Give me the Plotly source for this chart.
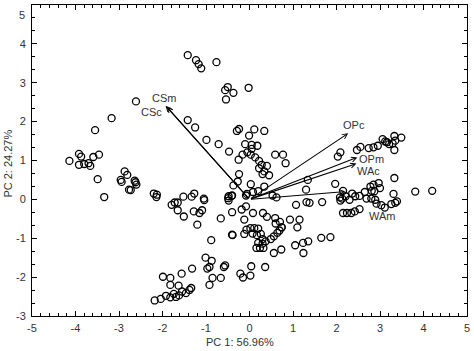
import plotly.graph_objects as go

# PCA scores (PC1, PC2)
pc1 = [
    -1.42, -1.23, -1.17, -1.11, -0.76, -0.50, -0.56, -0.37, -0.54, -0.02,
    -2.61, -3.17, -1.42, -1.25, -3.55, -0.24, -0.29, 0.11, 0.34,
    -0.99, -0.71, -0.47, -0.01, -0.10, 0.05, 0.18,
    0.05, -0.05, 0.03, -0.16, -0.25, 0.13, 0.22, 0.28, 0.40, 0.22,
    0.34, 0.30, 0.45, 0.59, 0.77, 0.83,
    -0.24, -0.27, -0.37, 0.03, 0.34, 0.20, 0.08, -0.06, -0.48, -0.40, -1.05,
    0.53, 0.62, -0.08,
    -4.14, -3.92, -3.87, -3.59, -3.46, -3.92, -3.80, -3.70, -3.66,
    -3.49, -3.34,
    -2.87, -2.81, -2.96, -2.94, -2.62, -2.60, -2.73, -2.77, -2.64,
    -2.20, -2.13, -2.14,
    -1.79, -1.72, -1.65, -1.65, -1.52, -1.51,
    -1.33, -1.27, -1.28, -1.15, -1.09, -1.20, -1.04,
    -0.66, -0.49, -0.41, -0.48, -0.40, -0.40,
    -0.18, -0.08, 0.08, 0.31, -0.12, 0.40, 0.59,
    -0.39, -0.12, -0.07, 0.02, 0.11, 0.20, 0.07, 0.17, 0.26, 0.30, 0.37,
    0.49, 0.56, 0.64, 0.69, 0.74, 0.60, 0.70,
    0.16, 0.24, 0.32, 0.30, 0.20, 0.56, 0.73,
    -0.88, -1.01, -0.87, -0.92, -0.97, -0.56, -0.59, 0.04, 0.36,
    -0.21, -0.15, 0.02, -0.85, -0.66, -0.92,
    -1.32, -1.56, -1.99, -1.82, -1.82, -1.63, -1.34, -1.38,
    -2.18, -2.04, -1.92, -1.82, -1.74, -1.69, -1.62, -1.55, -1.46,
    1.34, 1.30, 1.97,
    1.07, 1.31, 1.38, 1.67,
    0.93, 1.15, 1.10, 0.74,
    1.65, 1.86, 1.35, 1.23, 1.05, 1.24,
    2.03, 2.09, 2.47, 2.55, 2.74, 2.85, 2.95, 3.06, 3.12, 3.16, 3.21, 3.29,
    3.33, 3.35, 3.49, 3.33, 3.33,
    2.78, 2.85, 2.97, 3.00,
    2.15, 2.08, 2.13, 2.09, 2.21, 2.30, 2.36, 2.43, 2.53, 2.65, 2.69,
    2.81, 2.87, 2.89, 2.80, 2.92, 3.03, 3.11, 3.26, 3.35, 3.39, 3.31,
    3.81, 4.20,
    2.15, 2.24, 2.34, 2.42, 2.53,
]
pc2 = [
    3.71, 3.58, 3.48, 3.37, 3.53, 2.89, 2.81, 2.74, 2.57, 2.87,
    2.52, 2.09, 2.04, 1.85, 1.78, 1.81, 1.76, 1.80, 1.76,
    1.53, 1.42, 1.23, 1.64, 1.42, 1.40, 1.38,
    1.30, 1.21, 1.15, 1.15, 1.02, 1.08, 0.99, 0.89, 0.86, 0.80,
    0.72, 0.65, 0.62, 1.15, 1.15, 0.93,
    0.65, 0.46, 0.36, 0.39, 0.33, 0.21, 0.19, 0.14, 0.08, 0.10, 0.02,
    0.10, 0.05, 0.10,
    0.99, 1.17, 1.10, 1.09, 1.15, 0.89, 0.91, 0.93, 0.86,
    0.52, 0.06,
    0.72, 0.63, 0.50, 0.45, 0.44, 0.38, 0.24, 0.25, 0.48,
    0.15, 0.12, 0.06,
    -0.14, -0.08, -0.08, -0.28, 0.07, -0.44,
    0.07, 0.15, -0.31, -0.35, -0.28, -0.65, -0.02,
    -0.49, 0.03, 0.09, -0.03, -0.33, -0.91,
    -0.26, -0.18, -0.35, -0.35, -0.52, -0.45, -0.48,
    -0.92, -0.89, -0.78, -0.74, -0.74, -0.75, -0.88, -0.92, -0.89, -1.02, -1.08,
    -1.02, -0.95, -0.86, -0.80, -0.72, -0.62, -0.58,
    -1.25, -1.25, -1.25, -1.14, -1.12, -1.38, -1.29,
    -1.05, -1.50, -1.58, -1.74, -1.78, -1.70, -1.74, -1.72, -1.74,
    -1.91, -2.01, -1.96, -2.02, -2.02, -2.20,
    -1.78, -1.91, -1.99, -2.02, -2.20, -2.22, -2.28, -2.33,
    -2.60, -2.56, -2.48, -2.52, -2.43, -2.51, -2.47, -2.37, -2.41,
    0.50, 0.25, 0.40,
    -0.14, -0.07, -0.09, -0.07,
    -0.52, -0.52, -0.72, -0.72,
    -0.99, -0.97, -1.08, -1.12, -1.18, -1.38,
    1.10, 1.21, 1.27, 1.35, 1.32, 1.34, 1.38, 1.55, 1.49, 1.47, 1.42, 1.44,
    1.63, 1.51, 1.59, 1.27, 0.55,
    0.33, 0.38, 0.42, 0.29,
    0.22, 0.05, 0.02, -0.03, 0.08, -0.01, 0.15, 0.08, 0.09, 0.19, 0.02,
    0.22, 0.21, -0.01, 0.02, -0.11, -0.15, -0.21, -0.12, -0.09, -0.05, 0.14,
    0.20, 0.22,
    -0.35, -0.35, -0.35, -0.31, -0.25,
]

# Variable loadings (arrow tips)
var_names = ["CSm", "CSc", "OPc", "OPm", "WAc", "WAm"]
load_pc1 = [-1.93, -1.90, 2.27, 2.48, 2.46, 2.20]
load_pc2 = [2.41, 2.38, 1.70, 1.08, 0.92, 0.20]

x_ticks = [-5, -4, -3, -2, -1, 0, 1, 2, 3, 4, 5]
y_ticks = [-3, -2, -1, 0, 1, 2, 3, 4, 5]

# label pixel offsets (styling)
label_shift = {
    "CSm": (-2, 8), "CSc": (-15, -5), "OPc": (6, 8),
    "OPm": (14, -2), "WAc": (12, -7), "WAm": (37, -24),
}

FONT = "Liberation Sans, Arial, sans-serif"
TXT = "#333333"

fig = go.Figure()
fig.add_trace(go.Scatter(
    x=pc1, y=pc2, mode="markers",
    marker=dict(symbol="circle-open", size=7, color="black", line=dict(width=1.3, color="black")),
    showlegend=False, hoverinfo="skip",
))

for name, lx, ly in zip(var_names, load_pc1, load_pc2):
    fig.add_annotation(
        x=lx, y=ly, ax=0, ay=0, xref="x", yref="y", axref="x", ayref="y",
        showarrow=True, arrowhead=5, arrowsize=0.9, arrowwidth=1.1, arrowcolor="black",
        text="",
    )
    dx, dy = label_shift[name]
    fig.add_annotation(
        x=lx, y=ly, xref="x", yref="y", text=name, showarrow=False,
        xshift=dx, yshift=dy, font=dict(family=FONT, size=11, color=TXT),
    )

# top y tick label
fig.add_annotation(
    x=-0.022, y=0.995, xref="paper", yref="paper", text=str(y_ticks[-1]), showarrow=False,
    xanchor="center", yanchor="top",
    font=dict(family=FONT, size=11, color=TXT),
)

# axis titles
fig.add_annotation(
    x=(241 - 32) / 437, y=-0.0, xref="paper", yref="paper", yshift=-34,
    text="PC 1: 56.96%", showarrow=False, yanchor="bottom",
    font=dict(family=FONT, size=11, color=TXT),
)
fig.add_annotation(
    x=0, y=0.49, xref="paper", yref="paper", xshift=-24, xanchor="center",
    text="PC 2: 24.27%", showarrow=False, textangle=-90,
    font=dict(family=FONT, size=11, color=TXT),
)

axis_common = dict(
    showgrid=False, zeroline=False, showline=True, linecolor="black", linewidth=1,
    mirror="ticks", ticks="inside", ticklen=5, tickcolor="black", tickwidth=1,
    tickfont=dict(family=FONT, size=11, color=TXT),
)
fig.update_xaxes(range=[-5, 5], tickvals=x_ticks, ticktext=[str(v) for v in x_ticks],
                 minor=dict(ticks="inside", ticklen=3, dtick=0.2, tick0=0, tickcolor="black"),
                 ticklabelstandoff=2, **axis_common)
fig.update_yaxes(range=[-3, 5], tickvals=y_ticks[:-1], ticktext=[str(v) for v in y_ticks[:-1]],
                 minor=dict(ticks="inside", ticklen=3, dtick=1/3, tick0=0, tickcolor="black"),
                 ticklabelstandoff=3, **axis_common)

fig.update_layout(
    width=474, height=351,
    margin=dict(l=32, r=5, t=4, b=35),
    plot_bgcolor="white", paper_bgcolor="white",
)
fig.write_html("out.html")
